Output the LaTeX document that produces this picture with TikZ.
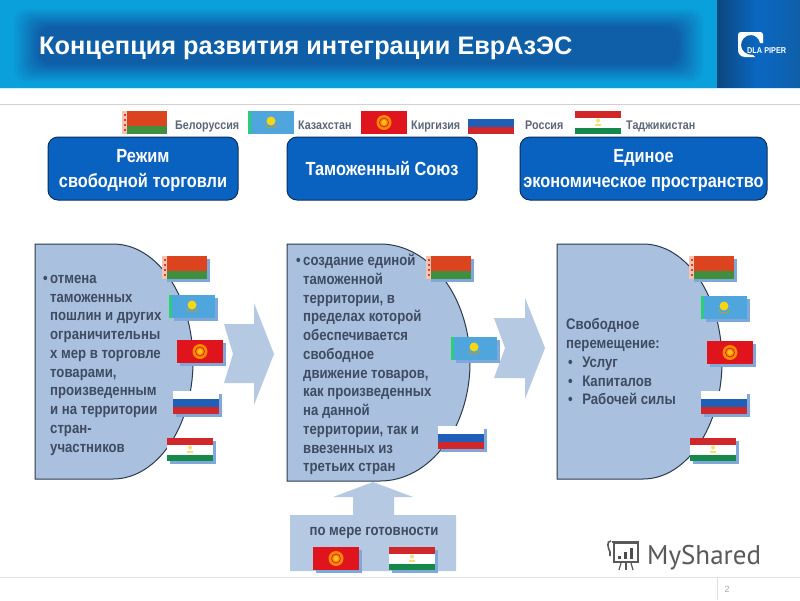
\documentclass[tikz,border=0pt]{standalone}
\usepackage{fontspec}
\setmainfont{Liberation Sans}
\newfontfamily\nara[FakeStretch=0.86]{Liberation Sans}
\newfontfamily\brand{PT Sans}
\definecolor{hdrout}{HTML}{0AA0DC}
\definecolor{hdrin}{HTML}{0F5FA8}
\definecolor{boxblue}{HTML}{0A62C0}
\definecolor{boxedge}{HTML}{0B2F5E}
\definecolor{pale}{HTML}{A9C1DF}
\definecolor{arrowc}{HTML}{B5C9E2}
\definecolor{edgec}{HTML}{2B3A4E}
\definecolor{txt}{HTML}{3E4B60}
\definecolor{shad}{HTML}{7FA7D9}
\definecolor{fred}{HTML}{E0141C}
\definecolor{byred}{HTML}{DC4420}
\definecolor{bypink}{HTML}{F3C4B4}
\definecolor{fgreen}{HTML}{3F8F3F}
\definecolor{rublue}{HTML}{1F5FB8}
\definecolor{rured}{HTML}{D0282A}
\definecolor{kzblue}{HTML}{4FA6DC}
\definecolor{tjgreen}{HTML}{14894A}
\definecolor{sun}{HTML}{F5C518}
\tikzset{
  x=1pt,y=-1pt,
  stagebox/.style={draw=boxedge,line width=1pt,fill=boxblue,rounded corners=10pt,minimum height=63pt,text=white,align=center,inner sep=0pt,font=\nara\bfseries\fontsize{19}{25}\selectfont},
  legendtext/.style={text=txt!85,anchor=base west,inner sep=0pt,font=\nara\bfseries\fontsize{12.5}{14}\selectfont},
  bodytext/.style={text=txt,anchor=north west,align=left,inner sep=0pt,font=\nara\bfseries\fontsize{15.3}{18.75}\selectfont},
  dshape/.style={draw=edgec,line width=1pt,fill=pale},
  blockarrow/.style={fill=arrowc,draw=none},
  flagby/.pic={
    \fill[shad] (5,3) rectangle (48,26);
    \fill[byred] (0,0) rectangle (45,15);
    \fill[fgreen] (0,15) rectangle (45,23);
    \fill[bypink] (0,0) rectangle (5,23);
    \foreach \q in {3,8,13,18}{\fill[byred] (1.5,\q) rectangle (3.5,\q+2);}
  },
  flagkz/.pic={
    \fill[shad] (5,3) rectangle (49,26);
    \fill[kzblue] (0,0) rectangle (46,23);
    \fill[green!45!kzblue] (0,0) rectangle (3,23);
    \fill[sun!70!yellow] (23,10) circle (4.5);
    \draw[sun!80!black,line width=.8pt] (17,14) .. controls (20,18) and (26,18) .. (29,14);
  },
  flagkg/.pic={
    \fill[shad] (3,3) rectangle (49,26);
    \fill[fred] (0,0) rectangle (46,23);
    \fill[orange!90!yellow] (23,11.5) circle (7.5);
    \draw[fred,line width=.7pt] (23,11.5) circle (4.5);
    \fill[sun] (23,11.5) circle (2.5);
  },
  flagru/.pic={
    \fill[shad] (3,3) rectangle (49,26);
    \fill[white] (0,0) rectangle (46,7.5);
    \fill[rublue] (0,7.5) rectangle (46,15.5);
    \fill[rured] (0,15.5) rectangle (46,23);
  },
  flagtj/.pic={
    \fill[shad] (3,3) rectangle (49,26);
    \fill[rured] (0,0) rectangle (46,6.5);
    \fill[white] (0,6.5) rectangle (46,16.5);
    \fill[tjgreen] (0,16.5) rectangle (46,23);
    \fill[sun!60!white] (20,13) rectangle (26,14.5);
    \fill[sun!60!white] (23,9.5) circle (2);
  },
}
\begin{document}
\begin{tikzpicture}
\useasboundingbox (0,0) rectangle (800,600);
\fill[white] (0,0) rectangle (800,600);
% header
\fill[hdrout] (0,0) rectangle (717,88);
\foreach \i in {0,...,27}{
  \pgfmathsetmacro\p{\i*100/27}
  \fill[hdrin!\p!hdrout,rounded corners=12pt] (12+\i*1,8+\i*.7) rectangle (705-\i*1,83-\i*.7);
}
\fill[left color=hdrin!75!black,right color=boxblue!90!hdrout] (717,0) rectangle (758,88);
\fill[left color=boxblue!90!hdrout,right color=hdrin] (758,0) rectangle (800,88);
\draw[cyan!20,line width=.8pt] (0,88.5) -- (800,88.5);
\draw[black!18,line width=.8pt] (0,104) -- (800,104);
\draw[black!12,line width=.8pt] (0,577) -- (800,577);
\draw[black!12,line width=.8pt] (717,577) -- (717,600);
\node[text=black!35,anchor=base,inner sep=0pt,font=\fontsize{9}{10}\selectfont] (pagenum) at (727,592) {2};
\node[text=white,anchor=base west,inner sep=0pt,font=\bfseries\fontsize{25.3}{28}\selectfont] (title) at (39,54) {Концепция развития интеграции ЕврАзЭС};
% logo
\fill[white] (741,32) -- (760,32) .. controls (762,32) and (763,33) .. (763,35) -- (763,43) -- (760,43) .. controls (759,38) and (755,35) .. (751,35) .. controls (745,35) and (741,40) .. (741,45) .. controls (741,51) and (746,55) .. (753,55) -- (755,57) -- (745,57) .. controls (740,57) and (738,53) .. (738,50) -- (738,35) .. controls (738,33) and (739,32) .. (741,32) -- cycle;
\node[text=white,anchor=base west,inner sep=0pt,font=\nara\bfseries\fontsize{8.5}{9}\selectfont] (logo) at (747,53) {DLA PIPER};
% legend
\begin{scope}
\colorlet{shad}{white}
\pic at (122,111) {flagby};
\pic at (248,111) {flagkz};
\pic at (361,111) {flagkg};
\pic at (468,111) {flagru};
\pic at (575,111) {flagtj};
\end{scope}
\node[legendtext] (lby) at (175,129) {Белоруссия};
\node[legendtext] (lkz) at (298,129) {Казахстан};
\node[legendtext] (lkg) at (411,129) {Киргизия};
\node[legendtext] (lru) at (525,129) {Россия};
\node[legendtext] (ltj) at (626,129) {Таджикистан};
% stage boxes
\node[stagebox,minimum width=190pt] (fta) at (143,168.5) {\rule{0pt}{17.7pt}Режим\\свободной торговли};
\node[stagebox,minimum width=190pt] (cu) at (382,168.5) {Таможенный Союз};
\node[stagebox,minimum width=247pt] (ces) at (643.5,168.5) {\rule{0pt}{17.7pt}Единое\\экономическое пространство};
% D shapes
\draw[dshape] (35,244) -- (113,244) arc[start angle=-90,end angle=90,x radius=80,y radius=117.5] -- (35,479) -- cycle;
\draw[dshape] (287,244) -- (380,244) arc[start angle=-90,end angle=90,x radius=90,y radius=118.5] -- (287,481) -- cycle;
\draw[dshape] (557,244) -- (643,244) arc[start angle=-90,end angle=90,x radius=79,y radius=117.5] -- (557,479) -- cycle;
% arrows
\fill[blockarrow] (224,324) -- (254,324) -- (254,303) -- (274,354) -- (254,405) -- (254,383) -- (224,383) -- (233,354) -- cycle;
\fill[blockarrow] (494,318) -- (525,318) -- (525,298) -- (545,348) -- (525,399) -- (525,378) -- (494,378) -- (505,348) -- cycle;
\fill[blockarrow] (290,515) -- (353,515) -- (353,497) -- (333,497) -- (373,482) -- (413,497) -- (394,497) -- (394,515) -- (456,515) -- (456,571) -- (290,571) -- cycle;
% texts
\node[bodytext] (t1) at (50,275) {\llap{•\hspace{2.5pt}}отмена\\таможенных\\пошлин и других\\ограничительны\\х мер в торговле\\товарами,\\произведенным\\и на территории\\стран-\\участников};
\node[bodytext] (t2) at (303,254) {\llap{•\hspace{2.5pt}}создание единой\\таможенной\\территории, в\\пределах которой\\обеспечивается\\свободное\\движение товаров,\\как произведенных\\на данной\\территории, так и\\ввезенных из\\третьих стран};
\node[bodytext] (t3) at (566,318.5) {Свободное\\перемещение:\\\hspace{2pt}•\hspace{9.5pt}Услуг\\\hspace{2pt}•\hspace{9.5pt}Капиталов\\\hspace{2pt}•\hspace{9.5pt}Рабочей силы};
\node[bodytext,anchor=base] (t4) at (374,535) {по мере готовности};
% flags
\pic at (162,256) {flagby};
\pic at (169,295) {flagkz};
\pic at (177,340) {flagkg};
\pic at (173,391) {flagru};
\pic at (167,438) {flagtj};
\pic at (426,256) {flagby};
\pic at (451,337) {flagkz};
\pic at (438,426) {flagru};
\pic at (313,547) {flagkg};
\pic at (389,547) {flagtj};
\pic at (689,256) {flagby};
\pic at (701,296) {flagkz};
\pic at (707,341) {flagkg};
\pic at (701,391) {flagru};
\pic at (690,438) {flagtj};
% watermark
\begin{scope}[draw=black!65,line width=1.6pt]
\draw (612,542) -- (639,542);
\draw (611,541) .. controls (606,541) and (608,548) .. (610,552) -- (610,556);
\draw (614,543) rectangle (638,562);
\fill[black!70] (618,556) rectangle (621,559);
\fill[black!70] (624,552) rectangle (627,559);
\fill[black!70] (630,548) rectangle (633,559);
\draw[line width=1.2pt] (621,563) -- (619,570);
\draw[line width=1.2pt] (626,563) -- (626,570);
\draw[line width=1.2pt] (631,563) -- (633,570);
\end{scope}
\node[text=black!65,anchor=base west,inner sep=0pt,font=\brand\fontsize{27}{30}\selectfont] (brandname) at (647,564) {MyShared};
\end{tikzpicture}
\end{document}
